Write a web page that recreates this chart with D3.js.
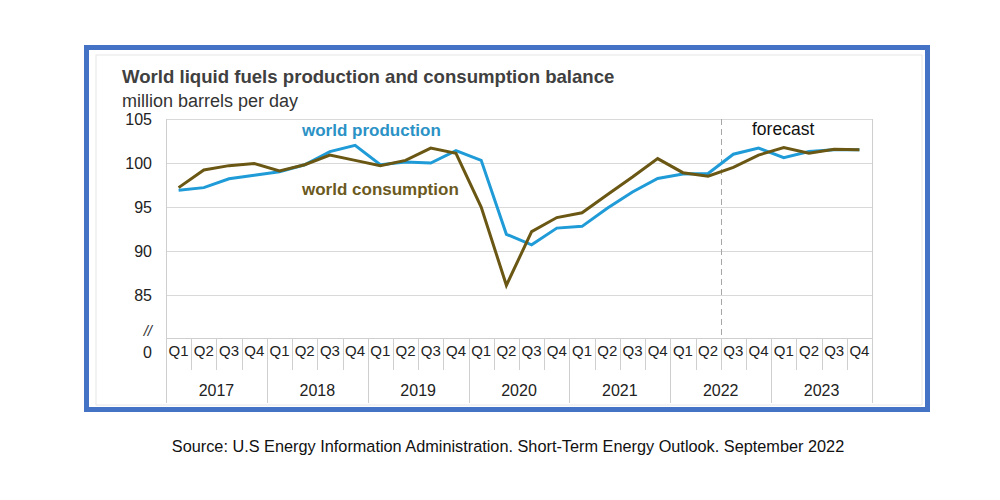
<!DOCTYPE html>
<html>
<head>
<meta charset="utf-8">
<script src="https://cdn.jsdelivr.net/npm/d3@7"></script>
<style>
	body { margin: 0; background: #fff; }
	svg { display: block; font-family: "Liberation Sans", Arial, sans-serif; }
	.grid line { stroke: #d9d9d9; stroke-width: 1; }
	.sep { stroke: #cfcfcf; stroke-width: 1; }
</style>
</head>
<body>
<div id="chart"></div>
<script>
// Chart data
const years = ["2017", "2018", "2019", "2020", "2021", "2022", "2023"];
const quarters = ["Q1", "Q2", "Q3", "Q4"];
const production = [96.9, 97.2, 98.2, 98.6, 99.0, 99.8, 101.3, 102.0, 99.8, 100.1, 100.0, 101.4,
	100.3, 91.9, 90.7, 92.6, 92.8, 94.85, 96.7, 98.25, 98.75, 98.8, 101.0, 101.7, 100.6, 101.3, 101.5, 101.5];
const consumption = [97.2, 99.2, 99.7, 99.95, 99.1, 99.8, 100.9, 100.3, 99.7, 100.3, 101.7, 101.1,
	95.0, 86.1, 92.2, 93.8, 94.35, 96.4, 98.4, 100.5, 98.9, 98.5, 99.5, 100.9, 101.75, 101.1, 101.55, 101.5];
const yTicks = [85, 90, 95, 100, 105];
const forecastStart = "2022 Q3";

const W = 1000, H = 500;
const plot = { left: 166, right: 872, top: 119, bottom: 339 };

const periods = years.flatMap(y => quarters.map(q => `${y} ${q}`));

const svg = d3.select("#chart").append("svg")
	.attr("width", W)
	.attr("height", H);

// frame
svg.append("rect")
	.attr("x", 96).attr("y", 55).attr("width", 826).attr("height", 350)
	.attr("fill", "none").attr("stroke", "#e6e6e6").attr("stroke-width", 1);
svg.append("rect")
	.attr("x", 86.5).attr("y", 47.5).attr("width", 841).attr("height", 362)
	.attr("fill", "none").attr("stroke", "#4472c4").attr("stroke-width", 5);

const x = d3.scaleBand().domain(periods).range([plot.left, plot.right]);
const y = d3.scaleLinear().domain([80, 105]).range([plot.bottom, plot.top]);

// grid
svg.append("g")
	.attr("class", "grid")
	.selectAll("line")
	.data(yTicks)
	.join("line")
	.attr("x1", plot.left).attr("x2", plot.right)
	.attr("y1", d => Math.round(y(d)) + 0.5).attr("y2", d => Math.round(y(d)) + 0.5);

// plot borders
svg.append("line").attr("class", "sep")
	.attr("x1", plot.left + 0.5).attr("x2", plot.left + 0.5)
	.attr("y1", plot.top).attr("y2", 403);
svg.append("line").attr("class", "sep")
	.attr("x1", plot.right + 0.5).attr("x2", plot.right + 0.5)
	.attr("y1", plot.top).attr("y2", 403);
svg.append("line").attr("class", "sep")
	.attr("x1", plot.left).attr("x2", plot.right)
	.attr("y1", plot.bottom - 0.5).attr("y2", plot.bottom - 0.5);

// category table separators
svg.append("g")
	.selectAll("line")
	.data(periods.slice(1))
	.join("line")
	.attr("class", "sep")
	.attr("x1", d => Math.round(x(d)) + 0.5).attr("x2", d => Math.round(x(d)) + 0.5)
	.attr("y1", plot.bottom)
	.attr("y2", d => d.endsWith("Q1") ? 403 : 370);

// y axis
const yAxis = d3.axisLeft(y).tickValues(yTicks).tickSize(0).tickPadding(0);
const yAxisGroup = svg.append("g")
	.attr("transform", `translate(152, 0)`)
	.call(yAxis);
yAxisGroup.select(".domain").remove();
yAxisGroup.selectAll(".tick text")
	.attr("font-size", 16)
	.attr("font-family", "Liberation Sans, Arial, sans-serif")
	.attr("fill", "#222");

// axis break + zero label
svg.append("text")
	.attr("x", 152).attr("y", 336)
	.attr("text-anchor", "end")
	.attr("font-size", 15).attr("font-style", "italic").attr("fill", "#333")
	.text("//");
svg.append("text")
	.attr("x", 152).attr("y", 358)
	.attr("text-anchor", "end")
	.attr("font-size", 16).attr("fill", "#222")
	.text("0");

// quarter labels
const xAxis = d3.axisBottom(x).tickSize(0).tickPadding(0).tickFormat(d => d.split(" ")[1]);
const xAxisGroup = svg.append("g")
	.attr("transform", `translate(0, 345)`)
	.call(xAxis);
xAxisGroup.select(".domain").remove();
xAxisGroup.selectAll(".tick text")
	.attr("font-size", 15)
	.attr("font-family", "Liberation Sans, Arial, sans-serif")
	.attr("fill", "#222");

// year labels
svg.append("g")
	.selectAll("text")
	.data(years)
	.join("text")
	.attr("x", d => x(`${d} Q1`) + x.bandwidth() * 2)
	.attr("y", 396)
	.attr("text-anchor", "middle")
	.attr("font-size", 16)
	.attr("fill", "#222")
	.text(d => d);

// forecast line
const fx = Math.round(x(forecastStart)) + 0.5;
svg.append("line")
	.attr("x1", fx).attr("x2", fx)
	.attr("y1", plot.top).attr("y2", plot.bottom)
	.attr("stroke", "#a6a6a6").attr("stroke-width", 1)
	.attr("stroke-dasharray", "6,4");
svg.append("text")
	.attr("x", 752).attr("y", 135)
	.attr("font-size", 17.5).attr("fill", "#111")
	.text("forecast");

// lines
const line = d3.line()
	.x((d, i) => x(periods[i]) + x.bandwidth() / 2)
	.y(d => y(d));

svg.append("path")
	.datum(production)
	.attr("fill", "none")
	.attr("stroke", "#1f9bd7")
	.attr("stroke-width", 3)
	.attr("stroke-linejoin", "miter")
	.attr("d", line);

svg.append("path")
	.datum(consumption)
	.attr("fill", "none")
	.attr("stroke", "#6b5714")
	.attr("stroke-width", 3)
	.attr("stroke-linejoin", "miter")
	.attr("d", line);

// series labels
svg.append("text")
	.attr("x", 302).attr("y", 136)
	.attr("font-size", 17).attr("font-weight", "bold").attr("fill", "#2b92c6")
	.text("world production");
svg.append("text")
	.attr("x", 302).attr("y", 195)
	.attr("font-size", 17).attr("font-weight", "bold").attr("fill", "#6b5a1e")
	.text("world consumption");

// titles
svg.append("text")
	.attr("x", 122).attr("y", 83)
	.attr("font-size", 18.6).attr("font-weight", "bold").attr("fill", "#404040")
	.text("World liquid fuels production and consumption balance");
svg.append("text")
	.attr("x", 122).attr("y", 107)
	.attr("font-size", 18).attr("fill", "#333")
	.text("million barrels per day");

// source
svg.append("text")
	.attr("x", 508).attr("y", 452)
	.attr("text-anchor", "middle")
	.attr("font-size", 16.3).attr("fill", "#111")
	.text("Source: U.S Energy Information Administration. Short-Term Energy Outlook. September 2022");
</script>
</body>
</html>
